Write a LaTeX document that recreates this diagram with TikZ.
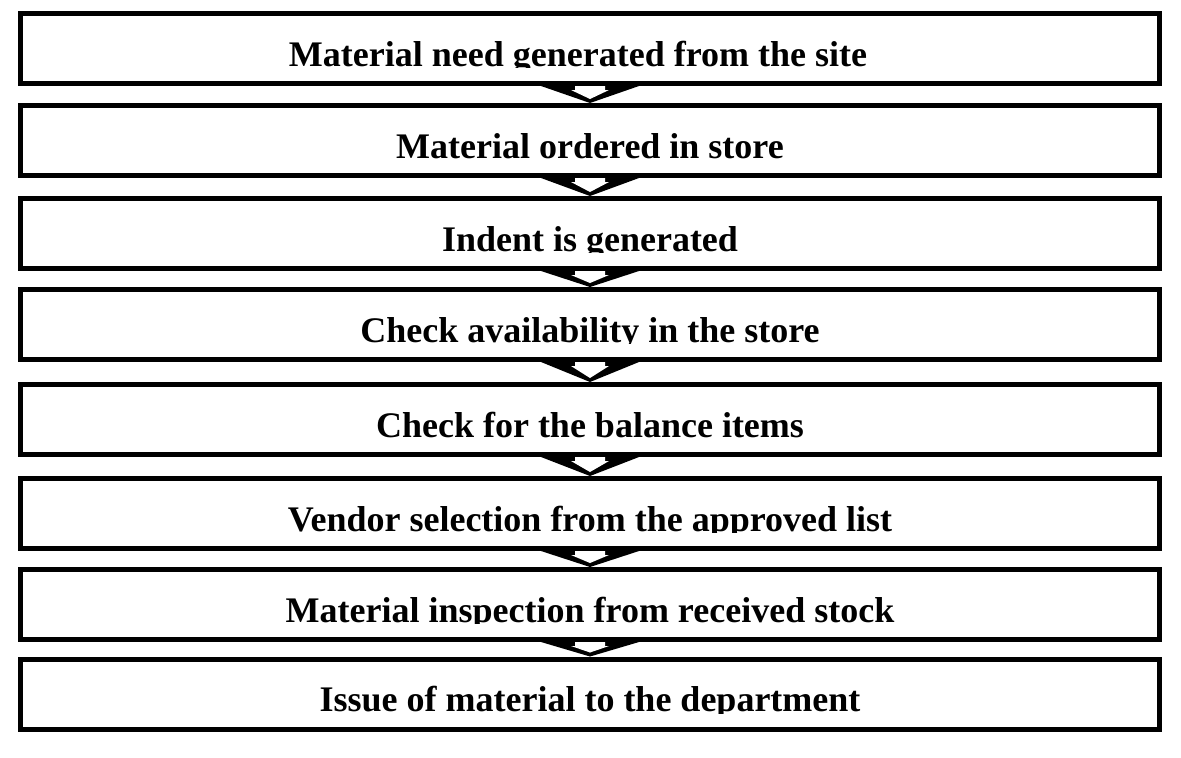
\documentclass[tikz,border=0pt]{standalone}
\usepackage{fontspec}
\setmainfont{Liberation Serif}
\usetikzlibrary{calc}
\tikzset{
  stepbox/.style={draw=black, fill=white, line width=3.75pt, rectangle,
    minimum width=854.25pt, minimum height=52.5pt, inner sep=0pt},
  steptext/.style={anchor=base, inner sep=0pt, font=\fontsize{27}{31}\selectfont\bfseries},
  cover/.style={fill=white, draw=none},
}
\newcommand{\flowarrow}[2]{%
  \fill[black] ($(#1.south)+(-49,0)$) -- ($(#1.south)+(49,0)$) -- ($(#2.north)+(0,0)$) -- cycle;
  \fill[white] ($(#1.south)+(-15,0)$) -- ($(#1.south)+(15,0)$) -- ($(#1.south)+(15,4)$)
     -- ($(#1.south)+(19,4)$) -- ($(#2.north)+(0,-4)$) -- ($(#1.south)+(-19,4)$)
     -- ($(#1.south)+(-15,4)$) -- cycle;
}
\newcommand{\steplabel}[4][0]{%
  \node[steptext] (#3) at ($(#2.south)+(#1,-20)$) {#4};
  \fill[cover] ($(#2.south)+(-560,-18)$) rectangle ($(#2.south)+(560,-5)$);
}
\begin{document}
\begin{tikzpicture}[x=0.75pt,y=-0.75pt]
\useasboundingbox (0,0) rectangle (1181,757);
\fill[white] (0,0) rectangle (1181,757);
% box positions (invisible first pass to get anchors)
\path (590,48.5)  node[stepbox, draw=none, fill=none] (b1) {};
\path (590,140.5) node[stepbox, draw=none, fill=none] (b2) {};
\path (590,233.5) node[stepbox, draw=none, fill=none] (b3) {};
\path (590,324.5) node[stepbox, draw=none, fill=none] (b4) {};
\path (590,419.5) node[stepbox, draw=none, fill=none] (b5) {};
\path (590,513.5) node[stepbox, draw=none, fill=none] (b6) {};
\path (590,604.5) node[stepbox, draw=none, fill=none] (b7) {};
\path (590,694)   node[stepbox, draw=none, fill=none] (b8) {};
% arrows
\flowarrow{b1}{b2}
\flowarrow{b2}{b3}
\flowarrow{b3}{b4}
\flowarrow{b4}{b5}
\flowarrow{b5}{b6}
\flowarrow{b6}{b7}
\flowarrow{b7}{b8}
% boxes
\node[stepbox] (B1) at (b1) {};
\node[stepbox] (B2) at (b2) {};
\node[stepbox] (B3) at (b3) {};
\node[stepbox] (B4) at (b4) {};
\node[stepbox] (B5) at (b5) {};
\node[stepbox] (B6) at (b6) {};
\node[stepbox] (B7) at (b7) {};
\node[stepbox] (B8) at (b8) {};
% texts
\steplabel[-12]{B1}{t1}{Material need generated from the site}
\steplabel{B2}{t2}{Material ordered in store}
\steplabel{B3}{t3}{Indent is generated}
\steplabel{B4}{t4}{Check availability in the store}
\steplabel{B5}{t5}{Check for the balance items}
\steplabel{B6}{t6}{Vendor selection from the approved list}
\steplabel{B7}{t7}{Material inspection from received stock}
\steplabel{B8}{t8}{Issue of material to the department}
\end{tikzpicture}
\end{document}
